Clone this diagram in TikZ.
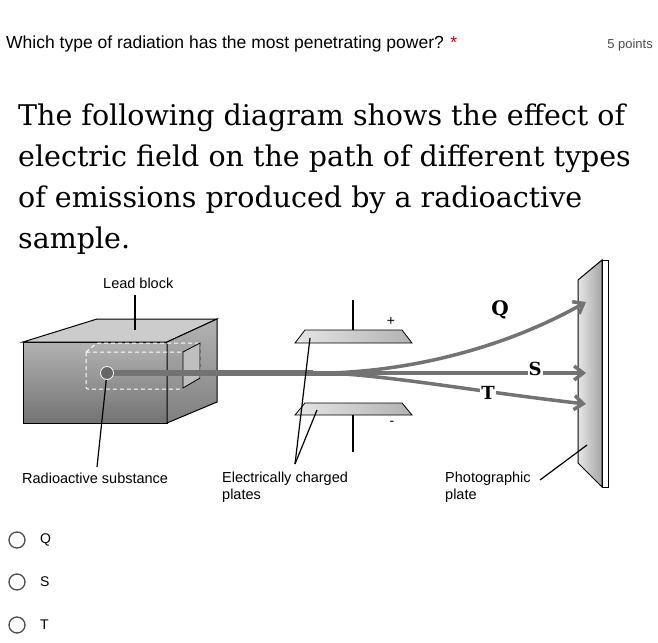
\documentclass[tikz,border=0pt]{standalone}
\usepackage{fontspec}
\setmainfont{Liberation Sans}
\newfontfamily\serifx{DejaVu Serif}
\usetikzlibrary{arrows.meta}
\begin{document}
\begin{tikzpicture}[x=1pt,y=-1pt,
  lab/.style={font=\fontsize{14.5}{17}\selectfont,inner sep=0,anchor=west,align=left},
  para/.style={font=\serifx\fontsize{28.5}{30}\selectfont,inner sep=0,anchor=west},
  lead/.style={draw=black,line width=1.2pt},
  ray/.style={black!55,line width=3.5pt,-{Straight Barb[length=9pt,width=14pt]}},
  opt/.style={circle,draw=black!70,line width=1.3pt,minimum size=16pt,inner sep=0}]
\useasboundingbox (0,0) rectangle (658,642);
\fill[white] (0,0) rectangle (658,642);
\node[lab,font=\fontsize{17.5}{18}\selectfont] (q) at (6,44) {Which type of radiation has the most penetrating power? \textcolor{red!80!black}{*}};
\node[lab,font=\fontsize{13}{13}\selectfont,text=black!70,anchor=east] (pts) at (653,45) {5 points};
\node[para] (p1) at (18,118) {The following diagram shows the effect of};
\node[para] (p2) at (18,159) {electric field on the path of different types};
\node[para] (p3) at (18,200) {of emissions produced by a radioactive};
\node[para] (p4) at (18,241) {sample.};
% lead block
\shade[top color=black!30,bottom color=black!55,draw=black,line width=1pt] (23,342) rectangle (167,423);
\fill[black!20,draw=black,line width=1pt] (23,342) -- (97,319) -- (217,319) -- (167,342) -- cycle;
\shade[top color=black!30,bottom color=black!50,draw=black,line width=1pt] (167,342) -- (217,319) -- (217,402) -- (167,423) -- cycle;
\draw[white,line width=1pt,dash pattern=on 4pt off 3pt,rounded corners=2pt] (86,352) -- (86,389) -- (183,389) (86,352) -- (97,343) -- (200,343) -- (200,380) (86,352) -- (183,352);
\fill[black!25,draw=black,line width=0.8pt] (183,352) -- (200,343) -- (200,378) -- (183,388) -- cycle;
% photographic plate
\shade[left color=black!10,right color=black!35,draw=black,line width=1pt] (578,280) -- (602,260) -- (602,487) -- (578,463) -- cycle;
\fill[white,draw=black,line width=1pt] (602,260) -- (608,260) -- (608,487) -- (602,487) -- cycle;
% beam
\draw[black!55,line width=6pt] (107,373) -- (313,373);
\draw[black!55,line width=5pt] (313,373) -- (355,373);
\draw[ray] (330,373) .. controls (420,370) and (510,345) .. (586,302);
\draw[ray] (330,373) -- (586,373);
\draw[ray] (330,373) .. controls (400,377) and (480,392) .. (586,404);
\node[circle,fill=black!60,draw=white,line width=0.8pt,minimum size=13pt,inner sep=0] (src) at (107,373) {};
\node[font=\serifx\bfseries\fontsize{20}{20}\selectfont,inner sep=1pt] (Q) at (500,310) {Q};
\node[font=\serifx\bfseries\fontsize{18}{18}\selectfont,fill=white,inner sep=1pt] (S) at (535,369) {S};
\node[font=\serifx\bfseries\fontsize{18}{18}\selectfont,fill=white,inner sep=1pt] (T) at (488,393) {T};
% plates
\draw[black,line width=1.5pt] (353,300) -- (353,337);
\shade[left color=black!10,right color=black!30,draw=black,line width=0.8pt] (295,343) -- (305,330) -- (402,330) -- (412,343) -- cycle;
\node[font=\fontsize{14}{14}\selectfont] (plus) at (391,321) {+};
\shade[left color=black!10,right color=black!30,draw=black,line width=0.8pt] (295,415) -- (305,403) -- (402,403) -- (412,415) -- cycle;
\draw[black,line width=1.5pt] (353,415) -- (353,452);
\node[font=\fontsize{14}{14}\selectfont] (minus) at (392,423) {-};
% labels
\node[lab] (lb) at (103,283) {Lead block};
\node[lab] (rs) at (22,478) {Radioactive substance};
\node[lab] (ec) at (222,487) {Electrically charged\\plates};
\node[lab] (pp) at (445,487) {Photographic\\plate};
\coordinate (lbEnd) at (135,330);
\draw[lead] (135,295) -- (lbEnd);
\draw[lead] (97,467) -- (src);
\coordinate (ecT) at (310,338);
\coordinate (ecB) at (317,410);
\coordinate (ecS) at (295,464);
\draw[lead] (ecS) -- (ecT);
\draw[lead] (ecS) -- (ecB);
\coordinate (ppE) at (587,445);
\draw[lead] (540,480) -- (ppE);
% options
\node[opt] (o1) at (17,540) {};
\node[lab,font=\fontsize{14}{14}\selectfont] (t1) at (40,540) {Q};
\node[opt] (o2) at (17,582) {};
\node[lab,font=\fontsize{14}{14}\selectfont] (t2) at (40,582) {S};
\node[opt] (o3) at (17,625) {};
\node[lab,font=\fontsize{14}{14}\selectfont] (t3) at (40,625) {T};
\end{tikzpicture}
\end{document}
